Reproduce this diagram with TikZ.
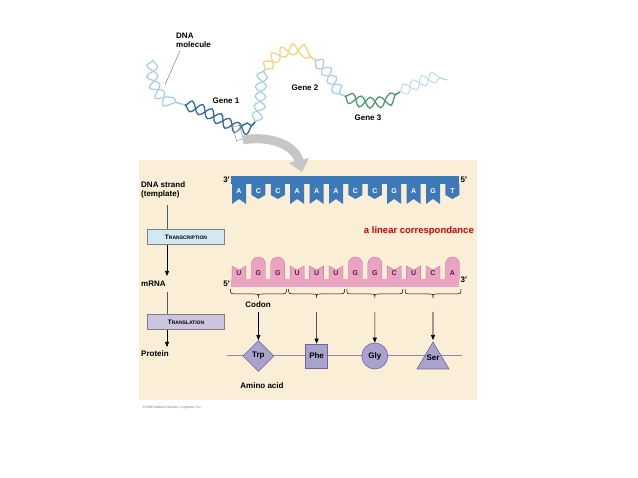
\documentclass[tikz,border=0pt]{standalone}
\usepackage{fontspec}
\setmainfont{Liberation Sans}
\usetikzlibrary{shapes.geometric,decorations.pathmorphing,arrows.meta}
\definecolor{beige}{HTML}{FBEED6}
\definecolor{dnab}{HTML}{3D78B8}
\definecolor{pinkm}{HTML}{EBA3C3}
\definecolor{pinkd}{HTML}{C07090}
\definecolor{mtext}{HTML}{5A1A3A}
\definecolor{tbox}{HTML}{D2E8F3}
\definecolor{lbox}{HTML}{CBC5E2}
\definecolor{aa}{HTML}{A9A1CE}
\definecolor{aad}{HTML}{6E669A}
\definecolor{lb}{HTML}{A8D2E8}
\definecolor{yel}{HTML}{F2D780}
\definecolor{grn}{HTML}{4E9A70}
\definecolor{db}{HTML}{2E6A9E}
\begin{document}
\begin{tikzpicture}[x=1pt,y=-1pt,
  lbl/.style={font=\bfseries\fontsize{8}{9}\selectfont,inner sep=1pt},
  strand/.style={line width=1.3pt,decorate,decoration={snake,amplitude=5.5pt,segment length=20pt}},
  mstrand/.style={strand,decoration={snake,amplitude=5.5pt,segment length=20pt,mirror}},
  procbox/.style={draw=gray,font=\bfseries\fontsize{6.5}{7}\selectfont,minimum width=77pt,minimum height=15pt,inner sep=1pt},
  aabox/.style={fill=aa,draw=aad,line width=0.6pt,font=\bfseries\fontsize{8}{9}\selectfont,inner sep=0pt},
  arr/.style={-{Triangle[length=5pt,width=4pt]},line width=0.6pt}]
\useasboundingbox (0,0) rectangle (638,478);
\fill[white] (0,0) rectangle (638,478);
% ---- DNA molecule ----
\foreach \s in {strand,mstrand}{
 \draw[\s,lb] (153,60) .. controls (150,85) and (165,100) .. (185,105);
 \draw[\s,db] (185,105) .. controls (215,112) and (235,140) .. (255,122);
 \draw[\s,lb] (255,122) .. controls (262,105) and (255,85) .. (265,70);
 \draw[\s,yel] (265,70) .. controls (278,50) and (300,50) .. (315,60);
 \draw[\s,lb] (315,60) .. controls (330,72) and (330,90) .. (345,96);
 \draw[\s,grn] (345,96) .. controls (365,105) and (385,100) .. (400,92);
 \draw[\s,lb!80,line width=1pt] (400,92) .. controls (420,82) and (435,75) .. (447,80);
}
\node[lbl,align=left,anchor=west] (dnam) at (175,40) {DNA\\molecule};
\coordinate (dnap) at (165,85);
\draw[gray,line width=0.5pt] (dnam.south west)++(5,2) coordinate (dq) -- (dnap);
\node[lbl] (g1) at (226,101) {Gene 1};
\node[lbl] (g2) at (305,88) {Gene 2};
\node[lbl] (g3) at (368,118) {Gene 3};
\node[draw=gray,fill=white,fill opacity=0.3,minimum width=7pt,minimum height=14pt,inner sep=0,rotate=15] (sel) at (238,133) {};
% ---- panel ----
\node[fill=beige,minimum width=338pt,minimum height=240pt,anchor=north west,inner sep=0] (panel) at (139,160) {};
\coordinate (ga) at (243,140);
\coordinate (gb) at (302,172);
\draw[gray!45,line width=9pt,-{Triangle[length=12pt,width=20pt]}] (ga) .. controls (270,135) and (295,145) .. (gb);
\node[font=\fontsize{3.5}{4}\selectfont,text=gray,anchor=west] (copy) at (139,408) {©1999 Addison Wesley Longman, Inc.};
% left labels
\node[lbl,align=left,anchor=west] (dnas) at (140,190) {DNA strand\\(template)};
\node[lbl,anchor=west] (mrna) at (140,284) {mRNA};
\node[lbl,anchor=west] (prot) at (140,354) {Protein};
\node[procbox,fill=tbox] (trc) at (186,237) {T\fontsize{5}{6}\selectfont RANSCRIPTION};
\node[procbox,fill=lbox] (trl) at (186,322) {T\fontsize{5}{6}\selectfont RANSLATION};
\coordinate (vtop) at (167,205);
\draw[line width=0.5pt,gray!70!black] (vtop) -- (trc.north -| vtop);
\coordinate (m1) at (167,276);
\draw[arr] (trc.south -| vtop) -- (m1);
\draw[line width=0.5pt,gray!70!black] (167,292) -- (trl.north -| vtop);
\draw[arr] (trl.south -| vtop) -- (167,347);
% DNA strand
\node[fill=dnab,minimum width=228pt,minimum height=8pt,inner sep=0,anchor=north west] (dbar) at (231,176) {};
\node[lbl,anchor=east] (d3) at (dbar.west) {3′};
\node[lbl,anchor=west] (d5) at (dbar.east) {5′};
\foreach \b/\lg [count=\i from 0] in {A/1,C/0,C/0,A/1,A/1,A/1,C/0,C/0,G/1,A/1,G/1,T/0}{
  \pgfmathsetmacro\x{239+19.4*\i}
  \ifnum\lg=1
    \fill[dnab] (\x-7,184) -- (\x+7,184) -- (\x+7,204) -- (\x,199) -- (\x-7,204) -- cycle;
  \else
    \fill[dnab] (\x-7,184) -- (\x+7,184) -- (\x+7,195) -- (\x,199) -- (\x-7,195) -- cycle;
  \fi
  \node[font=\bfseries\fontsize{7}{8}\selectfont,text=white,inner sep=0] (dl\i) at (\x,191) {\b};
}
\node[font=\bfseries\fontsize{9.5}{11}\selectfont,text=red!85!black,anchor=east,inner sep=0] (lin) at (474,231) {a linear correspondance};
% mRNA
\node[fill=pinkm,minimum width=228pt,minimum height=8pt,inner sep=0,anchor=north west] (mbar) at (231,279) {};
\node[lbl,anchor=east] (m5) at ([yshift=-1pt]mbar.west) {5′};
\node[lbl,anchor=west] (m3) at ([yshift=3pt]mbar.east) {3′};
\foreach \b/\lg [count=\i from 0] in {U/0,G/1,G/1,U/0,U/0,U/0,G/1,G/1,C/0,U/0,C/0,A/1}{
  \pgfmathsetmacro\x{239+19.4*\i}
  \ifnum\lg=1
    \fill[pinkm] (\x-7,279) -- (\x-7,264) arc[start angle=180,end angle=360,radius=7] -- (\x+7,279) -- cycle;
    \draw[pinkd,line width=0.3pt] (\x-7,279) -- (\x-7,264) arc[start angle=180,end angle=360,radius=7] -- (\x+7,279);
  \else
    \fill[pinkm] (\x-7,279) -- (\x-7,266) -- (\x,270) -- (\x+7,266) -- (\x+7,279) -- cycle;
    \draw[pinkd,line width=0.3pt] (\x-7,279) -- (\x-7,266) -- (\x,270) -- (\x+7,266) -- (\x+7,279);
  \fi
  \node[font=\bfseries\fontsize{7}{8}\selectfont,text=mtext,inner sep=0] (ml\i) at (\x,273.5) {\b};
}
% codons
\foreach \c in {0,1,2,3}{
  \pgfmathsetmacro\cx{258.4+58.2*\c}
  \draw[line width=0.5pt] (\cx-28,289) .. controls (\cx-28,294) .. (\cx-20,294) -- (\cx-4,294) .. controls (\cx,294) .. (\cx,298) .. controls (\cx,294) .. (\cx+4,294) -- (\cx+20,294) .. controls (\cx+28,294) .. (\cx+28,289);
  \coordinate (ca\c) at (\cx,312);
}
\node[lbl] (codon) at (258,305) {Codon};
\coordinate (pl) at (227,356);
\coordinate (pr) at (462,356);
\draw[aad!80,line width=1pt] (pl) -- (pr);
\node[aabox,diamond,minimum width=31pt,minimum height=31pt] (trp) at (258.4,356) {Trp};
\node[aabox,rectangle,minimum width=22pt,minimum height=24pt] (phe) at (316.6,356) {Phe};
\node[aabox,circle,minimum size=26pt] (gly) at (374.8,356) {Gly};
\fill[aa,draw=aad,line width=0.6pt] (433,342) -- (449,369) -- (417,369) -- cycle;
\node[font=\bfseries\fontsize{8}{9}\selectfont,inner sep=0] (ser) at (433,358) {Ser};
\coordinate (sertop) at (433,340);
\draw[arr] (ca0) -- (trp.north);
\draw[arr] (ca1) -- (phe.north);
\draw[arr] (ca2) -- (gly.north);
\draw[arr] (ca3) -- (sertop);
\node[lbl] (amino) at (262,386) {Amino acid};
\end{tikzpicture}
\end{document}
